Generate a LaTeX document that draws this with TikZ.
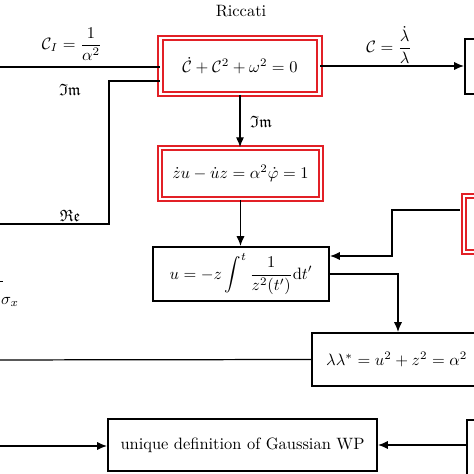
\documentclass[tikz,border=0pt]{standalone}
\usepackage{amsmath,amssymb}
\usetikzlibrary{arrows.meta,calc}
\definecolor{boxred}{RGB}{226,32,38}
\begin{document}
\begin{tikzpicture}[x=0.6083pt,y=-0.6083pt,
  redbox/.style={draw=boxred,line width=1.2pt,double=white,double distance=1.4pt,inner sep=0pt,align=center},
  blackbox/.style={draw=black,line width=1.3pt,inner sep=0pt,align=center},
  conn/.style={line width=0.75pt},
  arr/.style={line width=0.75pt,-{Latex[length=6pt,width=5pt]}},
  lbl/.style={inner sep=1pt}]
\useasboundingbox (0,0) rectangle (474,474);
\clip (0,0) rectangle (474,474);
% nodes
\node[lbl] (ric) at (241,11) {Riccati};
\node[redbox,minimum width=96.6pt,minimum height=33.9pt] (riccati) at (240,66) {$\dot{\mathcal C}+\mathcal C^2+\omega^2=0$};
\node[redbox,minimum width=97.8pt,minimum height=30.9pt] (wr) at (240.5,173.5) {$\dot z u-\dot u z=\alpha^2\dot\varphi=1$};
\node[redbox,minimum width=60.8pt,minimum height=33.9pt] (rr) at (514,224) {};
\node[blackbox,minimum width=107pt,minimum height=32.8pt] (int) at (241,274) {$u=-z\displaystyle\int^t\frac{1}{z^2(t')}\mathrm{d}t'$};
\node[blackbox,anchor=west,minimum height=32.2pt,text width=140pt,inner xsep=8.6pt,align=left] (lam) at (311,359.5) {$\lambda\lambda^*=u^2+z^2=\alpha^2$};
\node[blackbox,minimum width=163.6pt,minimum height=31.6pt] (uq) at (242.5,445) {unique definition of Gaussian WP};
\node[blackbox,minimum width=60.8pt,minimum height=33.5pt] (tr) at (515,66.5) {};
\node[blackbox,anchor=north west,minimum width=60.8pt,minimum height=40pt] (br) at (466,419) {};
% labels
\node[lbl] (lci) at (72,44) {$\mathcal C_I=\dfrac{1}{\alpha^2}$};
\node[lbl] (lc) at (389,45) {$\mathcal C=\dfrac{\dot\lambda}{\lambda}$};
\node[lbl] (lim1) at (70,90) {$\mathfrak{Im}$};
\node[lbl] (lre) at (70,216) {$\mathfrak{Re}$};
\node[lbl] (lim2) at (261,122) {$\mathfrak{Im}$};
\node[lbl] (sig) at (10,302) {$\sigma_x$};
% coordinates
\coordinate (l1) at (-30,67);
\coordinate (k1) at (109,81);
\coordinate (k2) at (109,224);
\coordinate (l2) at (-30,224);
\coordinate (c1) at (392,210);
\coordinate (c2) at (392,256);
\coordinate (d1) at (398,274);
\coordinate (l3) at (-30,360);
\coordinate (l4) at (-30,446);
\coordinate (f1) at (-6,281);
\coordinate (f2) at (3,281);
% connectors
\draw[conn] (l1) -- (riccati.west |- l1);
\draw[conn] (riccati.west |- k1) -- (k1) -- (k2) -- (l2);
\draw[arr] (riccati.east) -- (tr.west |- riccati.east);
\draw[arr] (riccati.south) -- (wr.north -| riccati.south);
\draw[arr] (wr.south) -- (int.north -| wr.south);
\draw[arr] ([xshift=-2pt]rr.west |- c1) -- (c1) -- (c2) -- (int.east |- c2);
\draw[arr] (int.east) -| (lam.north -| d1);
\draw[conn] (lam.west) -- (l3);
\draw[arr] (l4) -- (uq.west |- l4);
\draw[arr] (br.west |- uq.east) -- (uq.east);
\draw[line width=0.4pt] (f1) -- (f2);
\end{tikzpicture}
\end{document}
